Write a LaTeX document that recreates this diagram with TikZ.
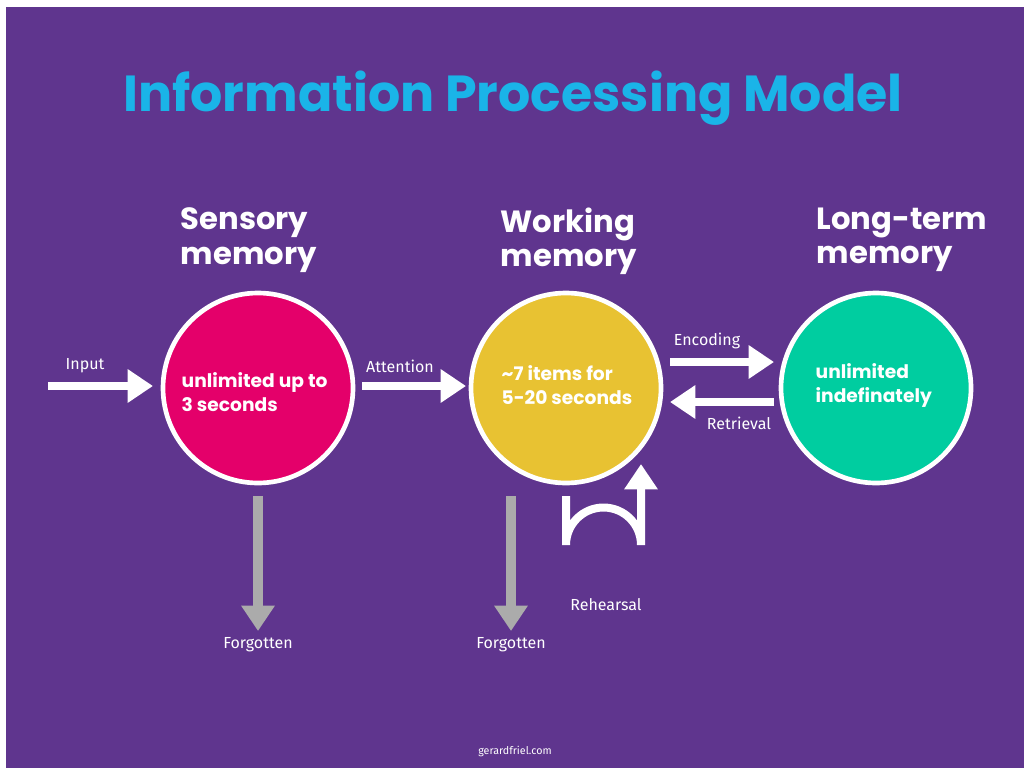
\documentclass[tikz,border=0pt]{standalone}
\usepackage{fontspec}
\setmainfont{Fira Sans}
\newfontfamily\pop{Poppins}
\usetikzlibrary{arrows.meta}
\definecolor{bgp}{HTML}{5F358E}
\definecolor{ttl}{HTML}{1AB4E8}
\definecolor{pnk}{HTML}{E4006A}
\definecolor{ylw}{HTML}{E8C232}
\definecolor{grn}{HTML}{00CDA0}
\definecolor{gry}{HTML}{ABABAB}
\begin{document}
\begin{tikzpicture}[x=0.75pt,y=-0.75pt,
  mem/.style={circle,draw=white,line width=3.5pt,minimum size=190*0.75pt,inner sep=0},
  head/.style={anchor=north west,align=left,text=white,font=\pop\bfseries\fontsize{23}{26}\selectfont},
  inner/.style={anchor=west,align=left,text=white,font=\pop\bfseries\fontsize{14}{18}\selectfont},
  lab/.style={text=white,font=\fontsize{12}{14}\selectfont},
  wa/.style={draw=white,line width=6pt,-{Triangle[length=19pt,width=24pt]}},
  ga/.style={draw=gry,line width=7.5pt,-{Triangle[length=19pt,width=24pt]}}]
\useasboundingbox (0,0) rectangle (1030,774);
\fill[white] (0,0) rectangle (1030,774);
\fill[bgp] (6,7) rectangle (1024,768);
\node[text=ttl,font=\pop\bfseries\fontsize{38}{40}\selectfont] (title) at (513,98) {Information Processing Model};
\node[head] (h1) at (176,203) {Sensory\\memory};
\node[head] (h2) at (496,203) {Working\\memory};
\node[head] (h3) at (812,203) {Long-term\\memory};
\node[mem,fill=pnk] (s) at (258,388) {};
\node[mem,fill=ylw] (w) at (566,388) {};
\node[mem,fill=grn] (l) at (876,388) {};
\node[inner] (st) at (177,392) {unlimited up to\\3 seconds};
\node[inner] (wt) at (497,385) {\textasciitilde 7 items for\\5-20 seconds};
\node[inner] (lt) at (811,385) {unlimited\\indefinately};
\coordinate (i0) at (48,386); \coordinate (i1) at (153,386);
\draw[wa] (i0) -- (i1);
\node[lab] (inl) at (85,366) {Input};
\coordinate (a0) at (362,386); \coordinate (a1) at (466,386);
\draw[wa] (a0) -- (a1);
\node[lab] (atl) at (400,366) {Attention};
\coordinate (e0) at (670,362); \coordinate (e1) at (774,362);
\draw[wa] (e0) -- (e1);
\node[lab] (enl) at (707,341) {Encoding};
\coordinate (r0) at (774,402); \coordinate (r1) at (670,402);
\draw[wa] (r0) -- (r1);
\node[lab] (rel) at (739,423) {Retrieval};
\coordinate (f0) at (258,496); \coordinate (f1) at (258,631);
\draw[ga] (f0) -- (f1);
\node[lab] (fl1) at (258,645) {Forgotten};
\coordinate (g0) at (511,496); \coordinate (g1) at (511,631);
\draw[ga] (g0) -- (g1);
\node[lab] (fl2) at (511,645) {Forgotten};
\coordinate (u0) at (566,496); \coordinate (u1) at (641,464);
\draw[wa] (u0) -- (566,545) arc[start angle=180,end angle=360,radius=37.5] -- (u1);
\node[lab] (rhl) at (606,605) {Rehearsal};
\node[text=white,font=\fontsize{8}{10}\selectfont] (ft) at (515,751) {gerardfriel.com};
\end{tikzpicture}
\end{document}
